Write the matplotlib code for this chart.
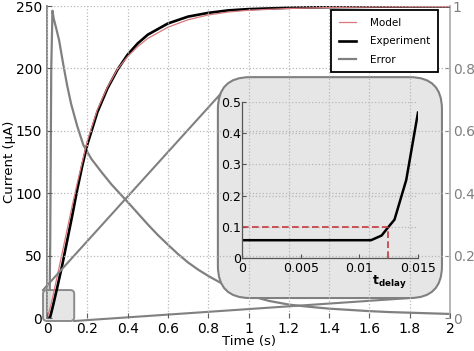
import numpy as np
import matplotlib
matplotlib.use("Agg")
import matplotlib.pyplot as plt
from matplotlib.patches import FancyBboxPatch
from matplotlib.lines import Line2D

# --- data ---
time_model = [0.0, 0.01, 0.02, 0.03, 0.05, 0.075, 0.10, 0.125, 0.15, 0.175, 0.20, 0.25,
              0.30, 0.35, 0.40, 0.45, 0.50, 0.60, 0.70, 0.80, 0.90, 1.00, 1.20, 1.40,
              1.60, 1.80, 2.00]
current_model = [0, 5, 11, 18, 33, 52, 71, 90, 108, 125, 142, 167, 185, 199.5, 209.5,
                 217.5, 224, 233, 239, 242.8, 245.2, 246.6, 248, 248.8, 249.2, 249.4, 249.5]

time_exp = [0.0, 0.012, 0.015, 0.02, 0.03, 0.05, 0.075, 0.10, 0.125, 0.15, 0.175, 0.20,
            0.25, 0.30, 0.35, 0.40, 0.45, 0.50, 0.60, 0.70, 0.80, 0.90, 1.00, 1.20, 1.40,
            1.60, 1.80, 2.00]
current_exp = [0.06, 0.06, 0.5, 3.5, 10, 24, 42, 62, 82, 103, 122, 139, 165, 184, 199,
               211, 220, 227, 236, 241.5, 244.5, 246.5, 247.5, 248.6, 249.1, 249.4, 249.6,
               249.7]

time_err = [0.0, 0.012, 0.016, 0.021, 0.027, 0.033, 0.045, 0.06, 0.08, 0.10, 0.12, 0.15,
            0.18, 0.22, 0.27, 0.32, 0.36, 0.40, 0.45, 0.50, 0.55, 0.60, 0.65, 0.70, 0.75,
            0.80, 0.85, 0.90, 0.95, 1.00, 1.10, 1.20, 1.30, 1.40, 1.50, 1.60, 1.70, 1.80,
            1.90, 2.00]
error = [0.0, 0.0, 0.25, 0.8, 0.985, 0.96, 0.93, 0.89, 0.815, 0.745, 0.685, 0.615, 0.555,
         0.51, 0.468, 0.428, 0.400, 0.372, 0.336, 0.300, 0.266, 0.235, 0.205, 0.178, 0.155,
         0.135, 0.117, 0.100, 0.085, 0.073, 0.055, 0.043, 0.036, 0.030, 0.026, 0.022,
         0.019, 0.017, 0.015, 0.013]

inset_time = [0.0, 0.0110, 0.0119, 0.01245, 0.0130, 0.0140, 0.0150]
inset_current = [0.057, 0.057, 0.072, 0.098, 0.123, 0.25, 0.466]
t_delay = 0.01245
i_threshold = 0.1

x_ticks = [0, 0.2, 0.4, 0.6, 0.8, 1.0, 1.2, 1.4, 1.6, 1.8, 2.0]
x_labels = ["0", "0.2", "0.4", "0.6", "0.8", "1", "1.2", "1.4", "1.6", "1.8", "2"]
left_ticks = [0, 50, 100, 150, 200, 250]
right_ticks = [0, 0.2, 0.4, 0.6, 0.8, 1.0]
right_labels = ["0", "0.2", "0.4", "0.6", "0.8", "1"]
inset_xticks = [0, 0.005, 0.01, 0.015]
inset_xlabels = ["0", "0.005", "0.01", "0.015"]
inset_yticks = [0, 0.1, 0.2, 0.3, 0.4, 0.5]
inset_ylabels = ["0", "0.1", "0.2", "0.3", "0.4", "0.5"]

# zoomed region (data) and inset box (axes fraction)
zoom_t = (-0.02, 0.135)
zoom_i = (-2.4, 22.4)
inset_box = (0.424, 0.064, 0.980, 0.772)

GRAY = '#808080'
DPI = 100

fig = plt.figure(figsize=(4.74, 3.51), dpi=DPI)
ax = fig.add_axes([0.0992, 0.0940, 0.8502, 0.8889])
ax2 = ax.twinx()
ax.set_zorder(ax2.get_zorder() + 1)
ax.patch.set_visible(False)

l_exp, = ax.plot(time_exp, current_exp, color='k', lw=1.9, label='Experiment', zorder=2)
l_mod, = ax.plot(time_model, current_model, color='#d9777a', lw=0.9, label='Model', zorder=2.1)
l_err, = ax2.plot(time_err, error, color=GRAY, lw=1.6, label='Error')

ax.set_xlim(0, 2)
ax.set_ylim(0, 250)
ax2.set_ylim(0, 1)
ax.set_xticks(x_ticks)
ax.set_xticklabels(x_labels)
ax.set_yticks(left_ticks)
ax2.set_yticks(right_ticks)
ax2.set_yticklabels(right_labels)

ax.grid(True, ls=':', color='#b8b8b8', lw=0.9)
ax.set_axisbelow(False)

for s in ['top', 'bottom', 'right']:
    ax.spines[s].set_visible(False)
for s in ['top', 'bottom', 'left']:
    ax2.spines[s].set_visible(False)
ax.spines['left'].set_color(GRAY)
ax.spines['left'].set_linewidth(1.3)
ax2.spines['right'].set_color('#b0b0b0')
ax2.spines['right'].set_linewidth(1.3)

ax.tick_params(direction='in', length=3.5, color='#606060', labelsize=10)
ax.tick_params(axis='x', pad=3)
ax2.tick_params(direction='in', length=3.5, color=GRAY, labelcolor=GRAY,
                labelsize=10, pad=2)
ax.set_xlabel('Time (s)', fontsize=9.5, labelpad=-1)
ax.set_ylabel('Current (μA)', fontsize=9.5, labelpad=0)


def rounded_box(p0, p1, r, **kw):
    (x0, y0), (x1, y1) = p0, p1
    patch = FancyBboxPatch((x0 / DPI, y0 / DPI), (x1 - x0) / DPI, (y1 - y0) / DPI,
                           boxstyle=f"round,pad=0,rounding_size={r / DPI}",
                           transform=fig.dpi_scale_trans, clip_on=False, **kw)
    ax.add_patch(patch)


def connector(p, q):
    ax.add_line(Line2D([p[0] / DPI, q[0] / DPI], [p[1] / DPI, q[1] / DPI],
                       transform=fig.dpi_scale_trans, color=GRAY, lw=1.5,
                       clip_on=False, zorder=2.2))


s0 = ax.transData.transform((zoom_t[0], zoom_i[0]))
s1 = ax.transData.transform((zoom_t[1], zoom_i[1]))
b0 = ax.transAxes.transform(inset_box[:2])
b1 = ax.transAxes.transform(inset_box[2:])
R = 32
rounded_box(s0, s1, 4, facecolor='#e4e4e4', edgecolor=GRAY, lw=1.4, alpha=0.9, zorder=1.5)
rounded_box(b0, b1, R, facecolor='#e6e6e6', edgecolor=GRAY, lw=1.5, zorder=2.3)

c = np.array([b0[0] + R, b1[1] - R])
arc_pt = c + R * np.array([-np.cos(np.pi / 4), np.sin(np.pi / 4)])
connector((s0[0], s1[1]), arc_pt)
connector((s1[0], s0[1]), (b1[0] - R, b0[1]))

ax.set_xlim(0, 2)
ax.set_ylim(0, 250)

leg = ax.legend(handles=[l_mod, l_exp, l_err], loc='upper right',
                bbox_to_anchor=(0.97, 0.987), borderaxespad=0, fancybox=False,
                edgecolor='k', framealpha=1, fontsize=7.5, handlelength=1.7,
                handletextpad=1.3, labelspacing=0.8, borderpad=0.75)
leg.get_frame().set_linewidth(1.3)
leg.set_zorder(5)

# inset
ax_in = fig.add_axes([0.5105, 0.2650, 0.3713, 0.4444], zorder=3)
ax_in.patch.set_visible(False)
ax_in.plot(inset_time, inset_current, color='k', lw=1.8)
ax_in.plot([0, t_delay], [i_threshold, i_threshold], color='#c43a3e', lw=1.2,
           dashes=(4, 2))
ax_in.plot([t_delay, t_delay], [0, i_threshold], color='#c43a3e', lw=1.2,
           dashes=(4, 2))
ax_in.set_xlim(0, 0.015)
ax_in.set_ylim(0, 0.5)
ax_in.set_xticks(inset_xticks)
ax_in.set_xticklabels(inset_xlabels)
ax_in.set_yticks(inset_yticks)
ax_in.set_yticklabels(inset_ylabels)
ax_in.grid(True, axis='y', ls=':', color='#b8b8b8', lw=0.9)
for s in ['top', 'right']:
    ax_in.spines[s].set_visible(False)
for s in ['left', 'bottom']:
    ax_in.spines[s].set_color('#555555')
    ax_in.spines[s].set_linewidth(0.9)
ax_in.tick_params(direction='in', length=3, color='#555555', labelsize=9)
ax_in.tick_params(axis='y', pad=0.5)
ax_in.tick_params(axis='x', pad=3)
ax_in.text(0.0126, -0.082, r'$\mathbf{t_{delay}}$', ha='center', va='baseline',
           fontsize=9)

fig.savefig('out.png', dpi=DPI)
